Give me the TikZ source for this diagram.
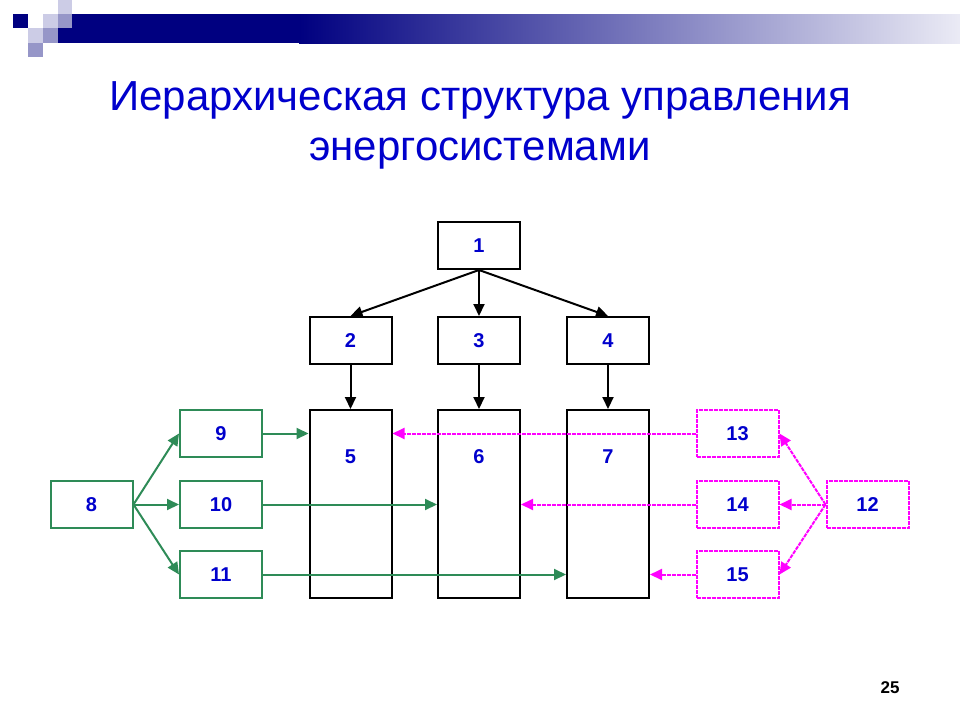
\documentclass[tikz,border=0pt]{standalone}
\usepackage{fontspec}
\setmainfont{Liberation Sans}
\usetikzlibrary{arrows.meta}

\definecolor{navy}{RGB}{0,0,128}
\definecolor{lilac}{RGB}{204,204,230}
\definecolor{midlilac}{RGB}{150,150,200}
\definecolor{titleblue}{RGB}{0,0,204}
\definecolor{boxgreen}{RGB}{46,139,87}
\definecolor{boxpink}{RGB}{255,0,255}

\tikzset{
  blk/.style={draw=black, line width=2pt, minimum width=82pt, minimum height=47pt, inner sep=0pt},
  col/.style={draw=black, line width=2pt, minimum width=82pt, minimum height=188pt, inner sep=0pt},
  grn/.style={draw=boxgreen, line width=2pt, minimum width=82pt, minimum height=47pt, inner sep=0pt},
  pnk/.style={draw=boxpink, line width=2pt, dash pattern=on 4pt off 1pt, minimum width=82pt, minimum height=47pt, inner sep=0pt},
  lbl/.style={text=titleblue, font=\bfseries\fontsize{20}{22}\selectfont},
  blkarr/.style={-{Triangle[length=12pt,width=11pt]}, line width=2pt, black},
  grnarr/.style={-{Triangle[length=12pt,width=11pt]}, line width=2pt, boxgreen},
  pnkarr/.style={-{Triangle[length=12pt,width=11pt]}, line width=2pt, boxpink, dash pattern=on 4pt off 1pt}
}

\begin{document}
\begin{tikzpicture}[x=1pt, y=-1pt]
  \useasboundingbox (0,0) rectangle (960,720);

  % header
  \fill[navy] (58,14) rectangle (300,43);
  \shade[left color=navy, right color=lilac!40] (299,14) rectangle (960,43);
  \fill[navy] (13,14) rectangle (28,28);
  \fill[lilac] (58,0) rectangle (72,14);
  \fill[lilac] (43,14) rectangle (58,28);
  \fill[midlilac] (58,14) rectangle (72,28);
  \fill[lilac] (28,28) rectangle (43,43);
  \fill[midlilac] (43,28) rectangle (58,43);
  \fill[midlilac] (28,43) rectangle (43,57);

  % title
  \node[text=titleblue, font=\fontsize{42}{50}\selectfont, align=center] (title) at (480,125)
    {Иерархическая структура управления\\энергосистемами};

  % boxes
  \node[blk] (b1) at (479,245.5) {};
  \node[blk] (b2) at (350.5,340.5) {};
  \node[blk] (b3) at (479,340.5) {};
  \node[blk] (b4) at (608,340.5) {};
  \node[col] (b5) at (350.5,504) {};
  \node[col] (b6) at (479,504) {};
  \node[col] (b7) at (608,504) {};
  \node[grn] (b8) at (91.5,504.5) {};
  \node[grn] (b9) at (221,433.5) {};
  \node[grn] (b10) at (221,504.5) {};
  \node[grn] (b11) at (221,574.5) {};
  \node[pnk] (b12) at (867.5,504.5) {};
  \node[pnk] (b13) at (737.5,433.5) {};
  \node[pnk] (b14) at (737.5,504.5) {};
  \node[pnk] (b15) at (737.5,574.5) {};

  % labels
  \foreach \n in {1,2,3,4,8,9,10,11,12,13,14,15}
    \node[lbl] (t\n) at (b\n) {\n};
  \foreach \n in {5,6,7}
    \node[lbl] (t\n) at ([yshift=47pt]b\n.center) {\n};

  % black arrows
  \foreach \n in {2,3,4}
    \draw[blkarr] (b1.south) -- (b\n.north);
  \draw[blkarr] (b2.south) -- (b5.north);
  \draw[blkarr] (b3.south) -- (b6.north);
  \draw[blkarr] (b4.south) -- (b7.north);

  % green arrows
  \foreach \n in {9,10,11}
    \draw[grnarr] (b8.east) -- (b\n.west);
  \draw[grnarr] (b9.east) -- (b9.east -| b5.west);
  \draw[grnarr] (b10.east) -- (b10.east -| b6.west);
  \draw[grnarr] (b11.east) -- (b11.east -| b7.west);

  % pink arrows
  \foreach \n in {13,14,15}
    \draw[pnkarr] (b12.west) -- (b\n.east);
  \draw[pnkarr] (b13.west) -- (b13.west -| b5.east);
  \draw[pnkarr] (b14.west) -- (b14.west -| b6.east);
  \draw[pnkarr] (b15.west) -- (b15.west -| b7.east);

  % page number
  \node[font=\bfseries\fontsize{17}{20}\selectfont] (page) at (890,688) {25};
\end{tikzpicture}
\end{document}
